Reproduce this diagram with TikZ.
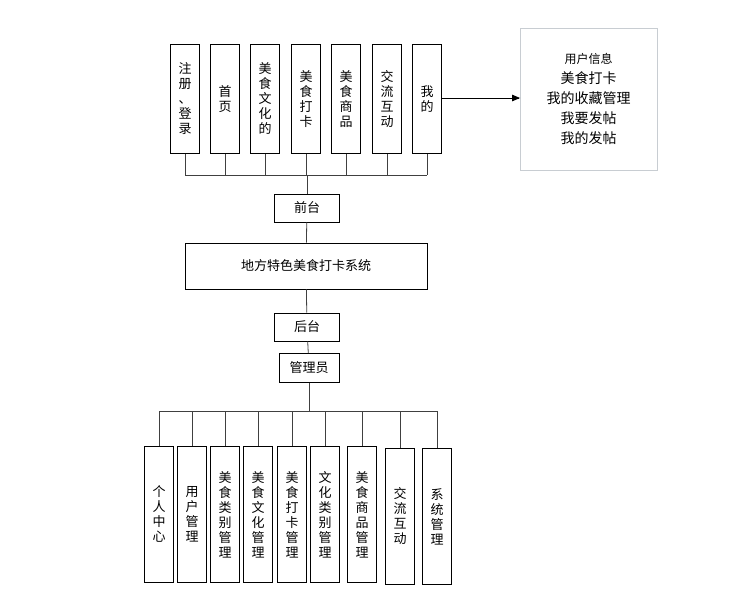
\documentclass[tikz,border=0pt]{standalone}
\usepackage{fontspec}
\setmainfont{Noto Sans CJK SC}
\usepackage{tikz}
\usetikzlibrary{arrows, positioning, calc}
\definecolor{boxgray}{RGB}{200, 205, 210}

\begin{document}
\begin{tikzpicture}[
        x=1pt, y=-1pt,
        block/.style={rectangle, draw=black, thick, fill=white, font=\fontsize{13}{15}\selectfont, align=center, inner sep=1pt},
        vbox/.style={block, minimum width=29pt, minimum height=#1, anchor=north},
        hbox/.style={block, minimum width=65pt, minimum height=28pt},
        info/.style={rectangle, draw=boxgray, fill=white, minimum width=137pt, minimum height=142pt, align=center, anchor=north west, font=\fontsize{14}{20}\selectfont},
        link/.style={thick, draw=black!75},
        arrow/.style={-triangle 45, thick}
    ]
        \useasboundingbox (0,0) rectangle (743,608);
        % front end
        \node[vbox=109pt] (login) at (185,44) {注\\册\\、\\登\\录};
        \node[vbox=109pt] (home) at (225,44) {首\\页};
        \node[vbox=109pt] (culture) at (265,44) {美\\食\\文\\化\\的};
        \node[vbox=109pt] (checkin) at (306,44) {美\\食\\打\\卡};
        \node[vbox=109pt] (goods) at (346,44) {美\\食\\商\\品};
        \node[vbox=109pt] (talk) at (387,44) {交\\流\\互\\动};
        \node[vbox=109pt] (mine) at (427,44) {我\\的};
        \node[info] (mineinfo) at (520,28) {{\fontsize{12}{16}\selectfont 用户信息}\\美食打卡\\我的收藏管理\\我要发帖\\我的发帖};
        \node[hbox] (front) at (307,208) {前台};
        \node[block, minimum width=242pt, minimum height=46pt] (sys) at (306,266) {地方特色美食打卡系统};
        \node[hbox] (back) at (307,327) {后台};
        \node[block, minimum width=60pt, minimum height=29pt] (admin) at (309,368) {管理员};
        % back end
        \node[vbox=136pt] (center) at (159,446) {个\\人\\中\\心};
        \node[vbox=136pt] (user) at (192,446) {用\\户\\管\\理};
        \node[vbox=136pt] (cat) at (225,446) {美\\食\\类\\别\\管\\理};
        \node[vbox=136pt] (cultm) at (258,446) {美\\食\\文\\化\\管\\理};
        \node[vbox=136pt] (checkm) at (292,446) {美\\食\\打\\卡\\管\\理};
        \node[vbox=136pt] (cultcat) at (325,446) {文\\化\\类\\别\\管\\理};
        \node[vbox=136pt] (goodsm) at (362,446) {美\\食\\商\\品\\管\\理};
        \node[vbox=136pt] (talkm) at (400,448) {交\\流\\互\\动};
        \node[vbox=136pt] (sysm) at (437,448) {系\\统\\管\\理};

        \coordinate (topbus) at (307,175);
        \foreach \n in {login, home, culture, checkin, goods, talk, mine}
            \draw[link] (\n.south) -- (\n.south |- topbus);
        \draw[link] (login.south |- topbus) -- (mine.south |- topbus);
        \draw[link] (topbus) -- (front);
        \draw[link] (front) -- (sys);
        \draw[link] (sys) -- (back);
        \draw[link] (back) -- (admin);
        \draw[arrow] (mine.east |- 0,98) -- (mineinfo.west |- 0,98);

        \coordinate (botbus) at (309,411);
        \draw[link] (admin) -- (botbus);
        \draw[link] (center.north |- botbus) -- (sysm.north |- botbus);
        \foreach \n in {center, user, cat, cultm, checkm, cultcat, goodsm, talkm, sysm}
            \draw[link] (\n.north |- botbus) -- (\n.north);
    \end{tikzpicture}
\end{document}
